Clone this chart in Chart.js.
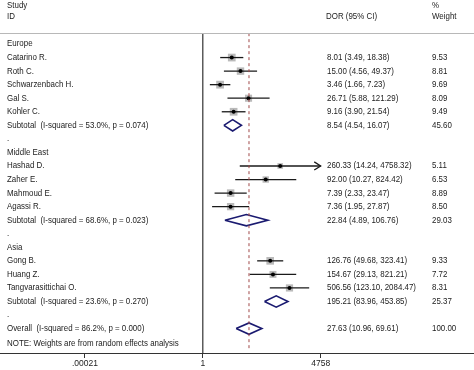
<!DOCTYPE html>
<html lang="en">
<head>
  <meta charset="UTF-8" />
  <title>Forest plot - DOR</title>
  <script src="https://cdn.jsdelivr.net/npm/chart.js"></script>
  <style>
    body { margin: 0; background: #fff; }
    #wrap { width: 474px; height: 370px; }
  </style>
</head>
<body>
  <div id="wrap"><canvas id="forest" width="474" height="370"></canvas></div>

  <script>
    // rows, top to bottom
    const rowLabels = [
      'Europe', 'Catarino R.', 'Roth C.', 'Schwarzenbach H.', 'Gal S.', 'Kohler C.',
      'Subtotal  (I-squared = 53.0%, p = 0.074)', '.',
      'Middle East', 'Hashad D.', 'Zaher E.', 'Mahmoud E.', 'Agassi R.',
      'Subtotal  (I-squared = 68.6%, p = 0.023)', '.',
      'Asia', 'Gong B.', 'Huang Z.', 'Tangvarasittichai O.',
      'Subtotal  (I-squared = 23.6%, p = 0.270)', '.',
      'Overall  (I-squared = 86.2%, p = 0.000)',
      'NOTE: Weights are from random effects analysis'
    ];
    const estimate = [null, 8.01, 15.00, 3.46, 26.71, 9.16, 8.54, null,
      null, 260.33, 92.00, 7.39, 7.36, 22.84, null,
      null, 126.76, 154.67, 506.56, 195.21, null, 27.63, null];
    const lower = [null, 3.49, 4.56, 1.66, 5.88, 3.90, 4.54, null,
      null, 14.24, 10.27, 2.33, 1.95, 4.89, null,
      null, 49.68, 29.13, 123.10, 83.96, null, 10.96, null];
    const upper = [null, 18.38, 49.37, 7.23, 121.29, 21.54, 16.07, null,
      null, 4758.32, 824.42, 23.47, 27.87, 106.76, null,
      null, 323.41, 821.21, 2084.47, 453.85, null, 69.61, null];
    const weight = [null, 9.53, 8.81, 9.69, 8.09, 9.49, 45.60, null,
      null, 5.11, 6.53, 8.89, 8.50, 29.03, null,
      null, 9.33, 7.72, 8.31, 25.37, null, 100.00, null];
    const pooledRows = [6, 13, 19, 21];
    const overallRow = 21;

    const tickValues = [0.00021, 1, 4758];
    const tickLabels = ['.00021', '1', '4758'];

    const xMin = Math.pow(10, -6.328);
    const xMax = Math.pow(10, 8.462);
    const clipMax = tickValues[tickValues.length - 1];
    const topRule = -0.8;
    const bottomRule = 22.8;

    const font = '8.8px "Liberation Sans", Arial, sans-serif';
    const squeeze = 0.9;   // stata text is a bit narrower than arial
    const navy = '#1a1a70';

    const datasets = [];

    // confidence intervals of single studies
    const studyRows = [];
    estimate.forEach((e, i) => {
      if (e !== null && !pooledRows.includes(i)) studyRows.push(i);
    });

    studyRows.forEach(i => {
      datasets.push({
        type: 'line',
        data: [{ x: lower[i], y: i }, { x: Math.min(upper[i], clipMax), y: i }],
        borderColor: '#1a1a1a', borderWidth: 1.3, pointRadius: 0, order: 3
      });
      if (upper[i] > clipMax) {
        const back = clipMax / Math.pow(10, 0.2);
        datasets.push({
          type: 'line',
          data: [{ x: back, y: i - 0.3 }, { x: clipMax, y: i }, { x: back, y: i + 0.3 }],
          borderColor: '#1a1a1a', borderWidth: 1.3, pointRadius: 0, order: 3
        });
      }
    });

    // weight squares (area ~ weight)
    datasets.push({
      type: 'scatter',
      data: studyRows.map(i => ({ x: estimate[i], y: i })),
      pointStyle: 'rect',
      pointRadius: studyRows.map(i => 2.5 * Math.sqrt(weight[i]) / Math.SQRT2),
      backgroundColor: '#bababa', borderWidth: 0, order: 4
    });
    // point estimates
    datasets.push({
      type: 'scatter',
      data: studyRows.map(i => ({ x: estimate[i], y: i })),
      pointStyle: 'circle', pointRadius: 2,
      backgroundColor: '#000', borderWidth: 0, order: 1
    });

    // pooled diamonds
    pooledRows.forEach(i => {
      datasets.push({
        type: 'line',
        data: [
          { x: lower[i], y: i }, { x: estimate[i], y: i - 0.42 },
          { x: upper[i], y: i }, { x: estimate[i], y: i + 0.42 },
          { x: lower[i], y: i }
        ],
        borderColor: navy, borderWidth: 1.6, pointRadius: 0, tension: 0, order: 2
      });
    });

    // line of no effect
    datasets.push({
      type: 'line',
      data: [{ x: 1, y: topRule }, { x: 1, y: bottomRule }],
      borderColor: '#333', borderWidth: 1.2, pointRadius: 0, order: 5
    });
    // overall estimate
    datasets.push({
      type: 'line',
      data: [{ x: estimate[overallRow], y: topRule }, { x: estimate[overallRow], y: bottomRule - 0.2 }],
      borderColor: '#a04848', borderWidth: 1, borderDash: [3, 3], pointRadius: 0, order: 0
    });

    function putText(ctx, txt, x, y) {
      ctx.save();
      ctx.translate(x, y);
      ctx.scale(squeeze, 1);
      ctx.fillText(txt, 0, 0);
      ctx.restore();
    }

    const textColumns = {
      id: 'textColumns',
      afterDraw(chart) {
        const ctx = chart.ctx;
        const y = chart.scales.y;
        const area = chart.chartArea;
        ctx.save();

        // rule under header
        ctx.strokeStyle = '#b8b8b8';
        ctx.lineWidth = 1;
        ctx.beginPath();
        ctx.moveTo(area.left, Math.round(y.getPixelForValue(topRule)) + 0.5);
        ctx.lineTo(area.right, Math.round(y.getPixelForValue(topRule)) + 0.5);
        ctx.stroke();

        ctx.font = font;
        ctx.fillStyle = '#1c1c1c';
        ctx.textBaseline = 'middle';
        ctx.textAlign = 'left';

        putText(ctx, 'Study', 7, y.getPixelForValue(-2.85));
        putText(ctx, 'ID', 7, y.getPixelForValue(-2));
        putText(ctx, 'DOR (95% CI)', 326, y.getPixelForValue(-2));
        putText(ctx, '%', 432, y.getPixelForValue(-2.85));
        putText(ctx, 'Weight', 432, y.getPixelForValue(-2));

        rowLabels.forEach((lab, i) => {
          const py = y.getPixelForValue(i);
          putText(ctx, lab, 7, i === rowLabels.length - 1 ? py + 1 : py);
          if (estimate[i] !== null) {
            const s = estimate[i].toFixed(2) + ' (' + lower[i].toFixed(2) + ', ' + upper[i].toFixed(2) + ')';
            putText(ctx, s, 327, py);
            putText(ctx, weight[i].toFixed(2), 432, py);
          }
        });
        ctx.restore();
      }
    };

    new Chart(document.getElementById('forest'), {
      data: { datasets: datasets },
      options: {
        responsive: false,
        animation: false,
        layout: { padding: 0, autoPadding: false },
        plugins: { legend: { display: false }, tooltip: { enabled: false } },
        scales: {
          x: {
            type: 'logarithmic',
            min: xMin,
            max: xMax,
            afterBuildTicks: s => { s.ticks = tickValues.map(v => ({ value: v })); },
            afterFit: s => { s.height = 17; },
            ticks: {
              autoSkip: false, maxRotation: 0, padding: 1,
              color: '#1c1c1c', font: { family: '"Liberation Sans", Arial', size: 8.5 },
              callback: (v, i) => tickLabels[i]
            },
            grid: { display: true, drawOnChartArea: false, drawTicks: true, tickLength: 5, color: '#333' },
            border: { display: true, color: '#333', width: 1 }
          },
          y: {
            type: 'linear',
            display: false,
            reverse: true,
            min: -3.247,
            max: 22.8
          }
        }
      },
      plugins: [textColumns]
    });
  </script>
</body>
</html>
